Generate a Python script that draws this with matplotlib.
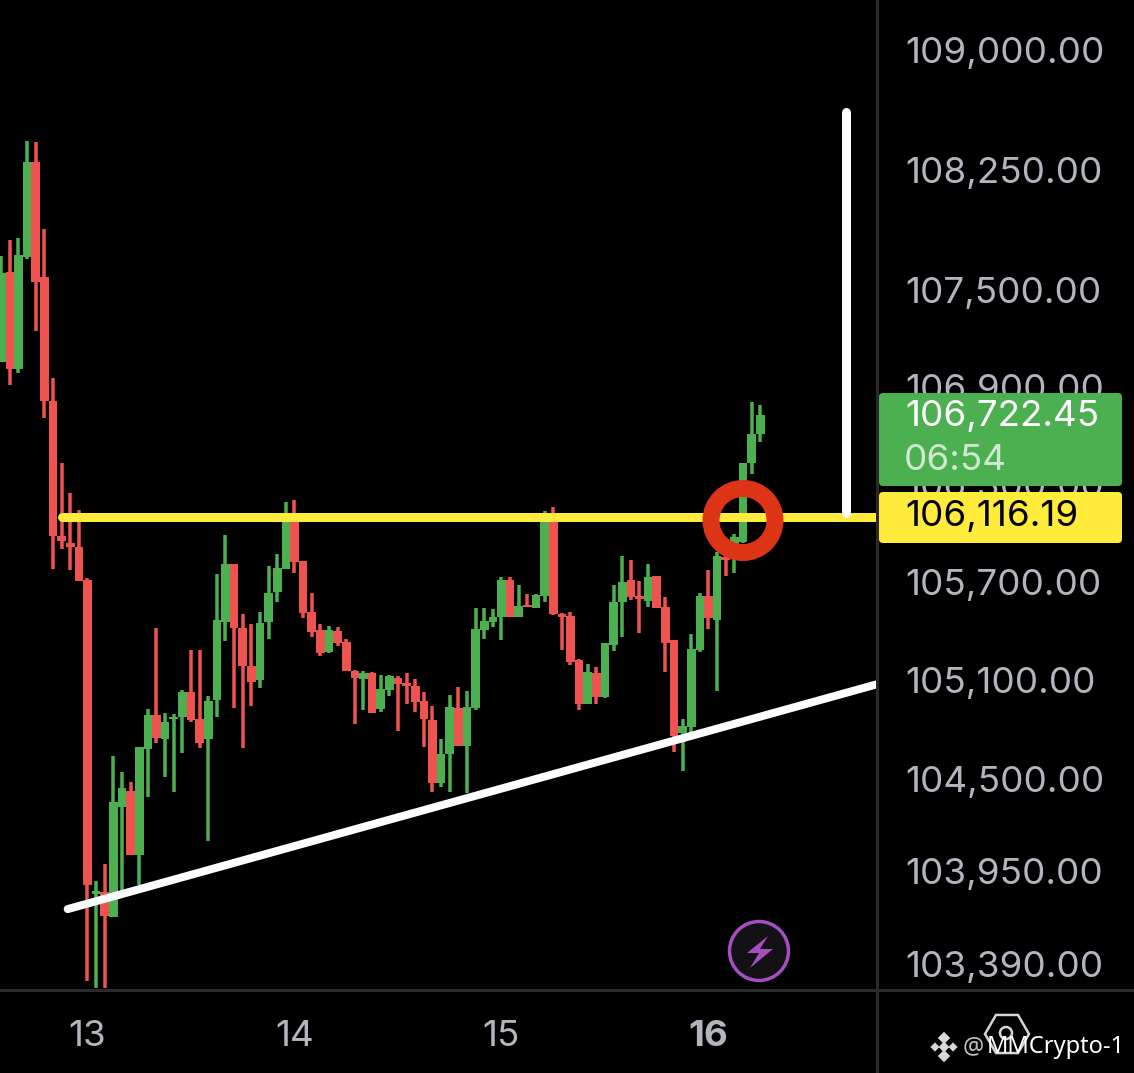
import matplotlib
matplotlib.use('Agg')
import matplotlib.pyplot as plt
from matplotlib.patches import Circle, FancyBboxPatch, Polygon, RegularPolygon
from matplotlib.ticker import NullFormatter, NullLocator

# hourly candles, hour 0 is the start of day 13
first_hour = -10
opens = [107052, 107610, 107009, 107704, 108297, 107579, 106811, 105981, 105938, 105913,
	105711, 103809, 103821, 103671, 104333, 104429, 104044, 104684, 104889, 104744,
	104865, 104877, 105029, 104865, 104744, 104980, 105455, 105809, 105418, 105187,
	105102, 105455, 105638, 105779, 106066, 105828, 105516, 105406, 105272, 105400,
	105333, 105156, 105108, 105144, 104926, 105041, 105114, 105084, 105065, 104974,
	104859, 104478, 104653, 104932, 104702, 104932, 105406, 105455, 105485, 105711,
	105485, 105559, 105540, 105614, 106121, 105504, 105492, 105224, 104956, 105144,
	104998, 105315, 105577, 105711, 105614, 105583, 105736, 105546, 105345, 104780,
	104817, 105285, 105614, 105467, 105852, 105895, 105944, 106429, 106608]
highs = [107710, 107810, 107822, 108428, 108422, 107878, 106953, 106429, 106244, 106140,
	105724, 103887, 103990, 104641, 104544, 104484, 104696, 104926, 105418, 104901,
	104895, 105041, 105285, 105285, 105004, 105748, 105987, 105809, 105504, 105443,
	105516, 105797, 105870, 106189, 106201, 105828, 105632, 105443, 105431, 105425,
	105352, 105163, 105156, 105150, 105132, 105132, 105126, 105144, 105108, 105029,
	104944, 104744, 105010, 105059, 105035, 105540, 105540, 105534, 105730, 105730,
	105681, 105626, 105626, 106134, 106158, 105510, 105516, 105230, 105199, 105181,
	105327, 105681, 105857, 105834, 105705, 105809, 105736, 105607, 105345, 104865,
	105382, 105632, 105773, 105883, 105883, 105993, 106429, 106805, 106786]
lows = [107052, 106910, 106984, 107691, 107244, 106706, 105779, 105901, 105773, 105705,
	103289, 103247, 103247, 103671, 103815, 104044, 103863, 104393, 104720, 104514,
	104423, 104659, 104847, 104690, 104128, 104877, 105339, 104932, 104690, 104944,
	105053, 105352, 105577, 105779, 105755, 105479, 105364, 105248, 105266, 105309,
	105156, 104835, 104920, 104901, 104907, 105004, 104792, 104956, 104907, 104696,
	104423, 104454, 104423, 104702, 104417, 104920, 105352, 105425, 105345, 105485,
	105485, 105546, 105540, 105577, 105498, 105285, 105193, 104920, 104956, 104956,
	104992, 105278, 105364, 105589, 105388, 105546, 105540, 105150, 104665, 104550,
	104786, 105272, 105412, 105035, 105736, 105754, 105938, 106361, 106558]
closes = [107604, 107009, 107716, 108297, 107548, 106811, 105981, 105950, 105913, 105705,
	103863, 103827, 103677, 104363, 104447, 104044, 104696, 104889, 104750, 104847,
	104877, 105029, 104859, 104720, 104974, 105467, 105809, 105418, 105187, 105090,
	105449, 105632, 105785, 106079, 105822, 105510, 105394, 105266, 105406, 105327,
	105156, 105114, 105144, 104901, 105047, 105126, 105077, 105065, 104968, 104865,
	104478, 104653, 104938, 104702, 104938, 105412, 105461, 105485, 105711, 105485,
	105552, 105546, 105620, 106121, 105504, 105485, 105211, 104956, 105150, 104998,
	105327, 105577, 105699, 105607, 105595, 105730, 105540, 105327, 104762, 104823,
	105291, 105614, 105479, 105858, 105834, 105975, 106429, 106608, 106722]

price_ticks = [109000, 108250, 107500, 106900, 106300, 105700, 105100, 104500, 103950, 103390]
day_ticks = [0, 24, 48, 72]
day_labels = ['13', '14', '15', '16']

# lines drawn by hand on the chart
resistance_hours = [-3.0, 91.6]
resistance_prices = [106094, 106094]
support_hours = [-2.3, 91.6]
support_prices = [103719, 105077]
target_hours = [87.9, 87.9]
target_prices = [108610, 106121]

last_price = '106,722.45'
countdown = '06:54'
level_price = '106,116.19'

GREEN = '#4CAF50'
RED = '#EF5350'
YELLOW = '#FFEB3B'
GRID = '#2A2A2A'
LABEL = '#B2B5BE'
PX = 0.72  # points per pixel at dpi 100

plt.rcParams['font.family'] = ['Inter', 'DejaVu Sans']

fig = plt.figure(figsize=(11.34, 10.73), dpi=100, facecolor='black')
ax = fig.add_axes([0, 83 / 1073, 877 / 1134, 990 / 1073], facecolor='black')
ax.set_yscale('log')

hours = [first_hour + i for i in range(len(opens))]
colors = [GREEN if c >= o else RED for o, c in zip(opens, closes)]
ax.vlines(hours, lows, highs, colors=colors, linewidth=3.5 * PX, capstyle='butt', zorder=2)
ax.bar(hours, [abs(c - o) for o, c in zip(opens, closes)], bottom=[min(o, c) for o, c in zip(opens, closes)],
	width=1.0, color=colors, linewidth=0, zorder=3)

ax.plot(resistance_hours, resistance_prices, color=YELLOW, linewidth=9 * PX, solid_capstyle='round', zorder=4)
ax.plot(support_hours, support_prices, color='white', linewidth=8 * PX, solid_capstyle='round', zorder=5)
ax.plot(target_hours, target_prices, color='white', linewidth=9 * PX, solid_capstyle='round', zorder=5)

ax.set_xlim(-10.145, 91.54)
ax.set_ylim(103235, 109316)
ax.yaxis.tick_right()
ax.set_yticks(price_ticks)
ax.set_yticklabels([f'{p:,.2f}' for p in price_ticks])
ax.yaxis.set_minor_locator(NullLocator())
ax.yaxis.set_minor_formatter(NullFormatter())
ax.set_xticks(day_ticks)
ax.set_xticklabels(day_labels)
ax.tick_params(axis='y', length=0, pad=28 * PX, labelsize=26.5, labelcolor=LABEL)
ax.tick_params(axis='x', length=0, pad=30 * PX, labelsize=26.5, labelcolor=LABEL)
ax.get_xticklabels()[3].set_fontweight('bold')
for spine in ax.spines.values():
	spine.set_visible(False)

# overlay in pixel coordinates for the price tags and icons
ov = fig.add_axes([0, 0, 1, 1])
ov.set_xlim(0, 1134)
ov.set_ylim(1073, 0)
ov.axis('off')

ov.plot([877, 877], [0, 1073], color=GRID, linewidth=3 * PX)
ov.plot([0, 1134], [990, 990], color=GRID, linewidth=3 * PX)

ov.add_patch(FancyBboxPatch((882, 396), 237, 87, boxstyle='round,pad=3,rounding_size=4', facecolor=GREEN, edgecolor='none'))
ov.add_patch(FancyBboxPatch((882, 495), 237, 45, boxstyle='round,pad=3,rounding_size=4', facecolor=YELLOW, edgecolor='none'))
ov.text(905, 417, last_price, color='white', fontsize=26.5, va='center', ha='left')
ov.text(904, 460, countdown, color='#CFE8D0', fontsize=26.5, va='center', ha='left')
ov.text(905, 517, level_price, color='black', fontsize=26.5, va='center', ha='left')

# red ring over the breakout
ov.add_patch(Circle((743, 520.5), 32, facecolor='none', edgecolor='#DD3316', linewidth=17 * PX))

# bolt icon
ov.add_patch(Circle((759, 951), 29.5, facecolor='#141114', edgecolor='#A44FC0', linewidth=3.5 * PX))
ov.add_patch(Polygon([(768, 936), (747, 953), (759, 953), (750, 968), (773, 949), (760, 949)], facecolor='#A44FC0', edgecolor='none'))

# settings icon
ov.add_patch(RegularPolygon((1007, 1034), 6, radius=22, orientation=0.5236, facecolor='none', edgecolor='#D5D5D5', linewidth=2.5 * PX))
ov.add_patch(Circle((1006, 1033), 6, facecolor='none', edgecolor='#D5D5D5', linewidth=2.5 * PX))

# watermark
ov.scatter([944, 935, 953, 944, 944], [1047, 1047, 1047, 1038, 1056], marker='D', s=[30, 22, 22, 40, 40], color='#D8D8D8', linewidth=0)
ov.text(963, 1047, '@', color='#C0C0C0', fontsize=17, va='center', ha='left', family=['Noto Sans', 'DejaVu Sans'])
ov.text(987, 1047, 'MMCrypto-1', color='white', fontsize=17, va='center', ha='left', family=['Noto Sans', 'DejaVu Sans'])

fig.savefig('out.png', dpi=100, facecolor='black')
